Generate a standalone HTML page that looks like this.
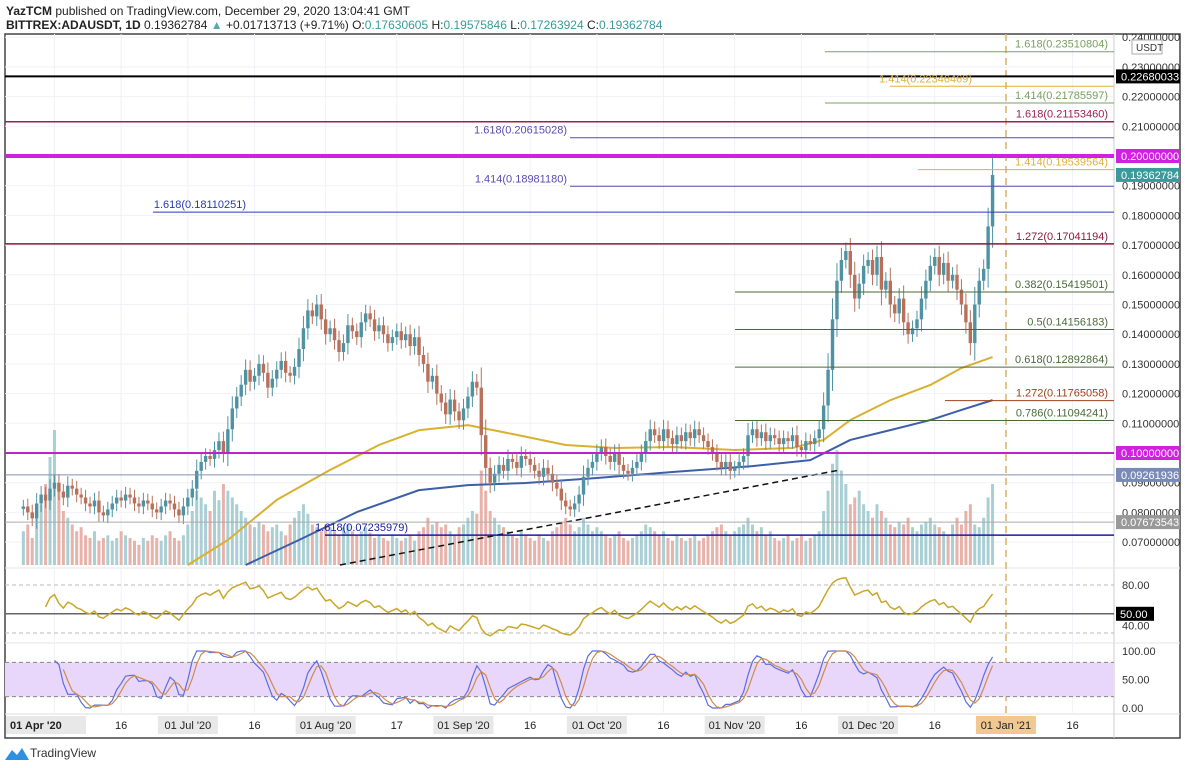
<!DOCTYPE html>
<html><head><meta charset="utf-8">
<style>
body{margin:0;background:#fff;width:1185px;height:768px;overflow:hidden;font-family:"Liberation Sans",sans-serif;}
svg{display:block}
</style></head>
<body>
<svg id="chart" width="1185" height="768" xmlns="http://www.w3.org/2000/svg" font-family="Liberation Sans, sans-serif">
<text x="6" y="15" font-size="12" fill="#222"><tspan font-weight="bold">YazTCM</tspan> published on TradingView.com, December 29, 2020 13:04:41 GMT</text>
<text x="6" y="29" font-size="12" fill="#222"><tspan font-weight="bold">BITTREX:ADAUSDT, 1D</tspan> 0.19362784 <tspan fill="#5aa">▲</tspan> +0.01713713 (+9.71%) O:<tspan fill="#3a9a9a">0.17630605</tspan> H:<tspan fill="#3a9a9a">0.19575846</tspan> L:<tspan fill="#3a9a9a">0.17263924</tspan> C:<tspan fill="#3a9a9a">0.19362784</tspan></text>
<rect x="5" y="34" width="1175" height="704" fill="none" stroke="#444" stroke-width="1.5"/>
<line x1="1114" y1="34" x2="1114" y2="738" stroke="#ccc"/>
<line x1="5" y1="714" x2="1180" y2="714" stroke="#ddd"/>
<line x1="5" y1="568" x2="1180" y2="568" stroke="#e6e6e6"/>
<line x1="5" y1="643" x2="1180" y2="643" stroke="#e6e6e6"/>
<g id="grid"></g>
<g id="vol"></g>
<g id="lines"></g>
<g id="ma"></g>
<g id="candles"></g>
<g id="fib"></g>
<g id="axis"></g>
<g id="rsi"></g>
<g id="stoch"></g>
<g id="time"></g>
<g>
<path d="M5 760 L12 750 L17 755 L22 748 L29 760 Z" fill="#2f8fe0"/>
<text x="30" y="757" font-size="12" fill="#333">TradingView</text>
</g>
</svg>
<script>
const closes=[.082,.080,.078,.083,.086,.084,.088,.090,.087,.085,
.089,.088,.086,.085,.083,.082,.084,.080,.079,.081,
.083,.085,.084,.086,.085,.083,.082,.084,.083,.081,
.080,.082,.084,.083,.081,.079,.082,.085,.088,.094,
.097,.099,.098,.101,.104,.100,.108,.115,.119,.123,
.128,.124,.126,.130,.127,.122,.125,.128,.131,.127,
.126,.129,.135,.142,.148,.146,.150,.145,.140,.142,
.138,.134,.137,.143,.141,.139,.144,.147,.145,.141,
.143,.140,.137,.139,.141,.138,.140,.136,.139,.133,
.130,.124,.126,.120,.117,.113,.118,.114,.111,.115,
.119,.124,.122,.106,.095,.090,.093,.096,.094,.098,
.097,.095,.099,.098,.096,.094,.092,.095,.093,.090,
.088,.084,.082,.081,.083,.086,.092,.095,.097,.100,
.102,.099,.097,.100,.096,.094,.093,.095,.097,.100,
.104,.108,.106,.104,.108,.105,.103,.106,.104,.107,
.105,.108,.106,.104,.102,.100,.097,.095,.097,.094,
.095,.097,.099,.106,.108,.105,.107,.104,.106,.105,
.103,.105,.104,.106,.102,.101,.104,.103,.105,.108,
.116,.128,.145,.158,.165,.168,.160,.152,.157,.163,
.165,.160,.166,.155,.158,.150,.147,.152,.144,.140,
.142,.145,.152,.158,.163,.166,.160,.164,.158,.160,
.155,.150,.144,.137,.150,.158,.162,.1763,.1936];
const volumes=[25,30,20,35,45,60,80,100,60,40,35,30,25,28,22,20,25,18,20,22,18,20,25,22,20,18,15,20,18,22,20,18,22,25,20,18,22,30,40,55,50,45,40,55,48,60,55,50,45,40,35,30,28,32,30,25,28,30,25,22,30,35,40,45,38,30,28,25,30,28,25,22,28,30,25,22,25,28,24,20,22,20,18,22,20,18,20,22,18,25,28,35,30,32,28,30,25,22,28,30,35,40,38,70,55,40,35,30,28,25,22,20,25,22,20,18,22,20,18,25,28,32,35,30,25,28,35,30,25,28,25,22,20,22,25,20,18,20,22,25,30,28,25,22,25,20,18,22,20,18,20,22,18,20,22,25,28,30,25,22,25,28,30,35,30,25,28,22,25,20,18,20,22,18,20,22,18,20,22,25,40,55,75,85,70,60,45,50,55,45,40,35,45,40,35,30,28,32,30,35,28,25,30,32,35,30,28,25,22,30,35,30,40,45,30,28,35,50,60];
const maOrangeDays=[40,49,60,72,83,92,103,114,125,136,149,163,176,183,189,198,207,214,221];
const maOrangeVals=[.0623,.0707,.0842,.0943,.1027,.1077,.1094,.1061,.1027,.1017,.1020,.1010,.1017,.1044,.1111,.1178,.1229,.1286,.1323];
const maBlueDays=[53,65,78,92,103,116,132,149,167,180,189,198,207,214,221];
const maBlueVals=[.0623,.0707,.0801,.0875,.0892,.0899,.0916,.0936,.0956,.0976,.1044,.1077,.1111,.1145,.1178];
const priceTicks=[0.07,0.08,0.09,0.10,0.11,0.12,0.13,0.14,0.15,0.16,0.17,0.18,0.19,0.20,0.21,0.22,0.23,0.24];
const timeLabels=["01 Apr '20 Jun '20","16","01 Jul '20","16","01 Aug '20","17","01 Sep '20","16","01 Oct '20","16","01 Nov '20","16","01 Dec '20","16","01 Jan '21","16"];
const timeDays=[10,25,40,55,71,87,102,117,132,147,163,178,193,208,224,239];
const fibPrices=[0.23510804,0.2268003,0.22346469,0.21785597,0.2115346,0.20615028,0.2,0.19539564,0.1898118,0.18110251,0.17041194,0.15419501,0.14156183,0.12892864,0.11765058,0.11094241,0.1,0.09261936,0.07673543,0.07235979];
const fibLabels=["1.618(0.23510804)","","1.414(0.22346469)","1.414(0.21785597)","1.618(0.21153460)","1.618(0.20615028)","","1.414(0.19539564)","1.414(0.18981180)","1.618(0.18110251)","1.272(0.17041194)","0.382(0.15419501)","0.5(0.14156183)","0.618(0.12892864)","1.272(0.11765058)","0.786(0.11094241)","","","","1.618(0.07235979)"];
const fibColors=["#7aa060","#000","#e0b040","#7aa060","#9a2050","#5a4ab0","#d020e0","#e0b040","#5a4ab0","#2a3ab0","#8a1a3a","#4a6a3a","#4a6a3a","#4a6a3a","#a0401a","#4a6a3a","#c020d0","#8090b0","#aaa","#1a1aa0"];
const fibStart=[825,5,890,825,5,570,5,918,570,153,5,735,735,735,945,735,5,5,5,325];
const fibWidth=[1,2,1,1,1.5,1,4,1,1,1,1.5,1,1,1,1,1,2,1,1,1.5];
const fibLabelX=[1108,0,972,1108,1108,567,0,1108,567,246,1108,1108,1108,1108,1108,1108,0,0,0,408];
const axisBoxes=[[0.2268003,"0.22680033","#000"],[0.2,"0.20000000","#d020e0"],[0.19362784,"0.19362784","#3a9a9a"],[0.1,"0.10000000","#d020e0"],[0.09261936,"0.09261936","#7a8ab8"],[0.07673543,"0.07673543","#999"]];

const NS="http://www.w3.org/2000/svg";
function mk(tag,attrs,parent,txt){const e=document.createElementNS(NS,tag);for(const k in attrs)e.setAttribute(k,attrs[k]);if(txt!==undefined)e.textContent=txt;document.getElementById(parent).appendChild(e);return e;}
const py=p=>453-(p-0.10)*2970;
const dx=d=>10+d*4.446;
const cx=i=>dx(i+3);
const volY=v=>565-v*1.35;
const rsiY=v=>585+(80-v)*0.96;
const stY=v=>708-v*0.57;

priceTicks.forEach(p=>{const l=mk('line',{x1:5,x2:1114,y1:py(p),y2:py(p),stroke:'#f0f2f7'},'grid');

});
timeDays.forEach(d=>{const l=mk('line',{x1:dx(d),x2:dx(d),y1:34,y2:714,stroke:'#f0f2f7'},'grid');

});

for(let i=0;i<closes.length;i++){
 const c=closes[i],o=i?closes[i-1]:c*0.99,up=c>=o;
 const x=cx(i);
 const vb=mk('rect',{x:x-1.5,y:volY(volumes[i]),width:3,height:565-volY(volumes[i]),fill:up?'#a9cfd4':'#e6b2aa'},'vol');
 
 
 const w=0.002+Math.abs(c-o)*0.3;
 const hi=Math.max(o,c)+w,lo=Math.min(o,c)-w;
 const col=up?'#4f93a3':'#b8705a';
 const wk=mk('line',{x1:x,x2:x,y1:py(hi),y2:py(lo),stroke:col,'stroke-width':1},'candles');
 
 
 const bt=py(Math.max(o,c)),bh=Math.max(1,Math.abs(py(o)-py(c)));
 const bd=mk('rect',{x:x-1.7,y:bt,width:3.4,height:bh,fill:col},'candles');
 
 
}
function poly(days,vals,col,name){const pts=days.map((d,i)=>dx(d)+','+py(vals[i])).join(' ');
 const p=mk('polyline',{points:pts,fill:'none',stroke:col,'stroke-width':2,'stroke-linejoin':'round'},'ma');
 
 }
poly(maOrangeDays,maOrangeVals,'#d9b030','ma-orange');
poly(maBlueDays,maBlueVals,'#3d5fa8','ma-blue');
const tl=mk('line',{x1:340,y1:565,x2:840,y2:470,stroke:'#111','stroke-width':1.5,'stroke-dasharray':'6 4'},'lines');


const vl=mk('line',{x1:1006,x2:1006,y1:34,y2:714,stroke:'#e0b060','stroke-width':1.5,'stroke-dasharray':'7 5'},'lines');



fibPrices.forEach((p,i)=>{const y=py(p);
 const l=mk('line',{x1:fibStart[i],x2:1114,y1:y,y2:y,stroke:fibColors[i],'stroke-width':fibWidth[i]},'fib');
 
 
 if(fibLabels[i]){const t=mk('text',{x:fibLabelX[i],y:y-4,'font-size':11,fill:fibColors[i],'text-anchor':'end'},'fib',fibLabels[i]);
 
 }
});

priceTicks.forEach(p=>{const t=mk('text',{x:1122,y:py(p)+4,'font-size':11,fill:'#333'},'axis',p.toFixed(8));

});
const ub=mk('rect',{x:1132,y:40,width:30,height:14,fill:'#fff',stroke:'#aaa'},'axis');


mk('text',{x:1136,y:51,'font-size':10,fill:'#333'},'axis','USDT');
axisBoxes.forEach(b=>{const y=py(b[0]);
 const r=mk('rect',{x:1116,y:y-7,width:64,height:14,fill:b[2]},'axis');
 
 
 mk('text',{x:1121,y:y+4,'font-size':11,fill:'#fff'},'axis',b[1]);});

const rsi=[null];{let ag=0,al=0;for(let i=1;i<closes.length;i++){const ch=closes[i]-closes[i-1],g=Math.max(ch,0),l=Math.max(-ch,0);
 const n=Math.min(i,14);ag=(ag*(n-1)+g)/n;al=(al*(n-1)+l)/n;
 rsi[i]=al===0?100:100-100/(1+ag/al);}}
[80,30].forEach(v=>{const l=mk('line',{x1:5,x2:1114,y1:rsiY(v),y2:rsiY(v),stroke:'#bbb','stroke-dasharray':'4 3'},'rsi');

});
const r50=mk('line',{x1:5,x2:1114,y1:rsiY(50),y2:rsiY(50),stroke:'#666','stroke-width':1.5},'rsi');


const rp=[];rsi.forEach((v,i)=>{if(v!=null&&i>=5)rp.push(cx(i)+','+rsiY(v));});
const rl=mk('polyline',{points:rp.join(' '),fill:'none',stroke:'#c9a72a','stroke-width':1.5},'rsi');


mk('text',{x:1122,y:rsiY(80)+4,'font-size':11,fill:'#333'},'rsi','80.00');
mk('text',{x:1122,y:rsiY(40)+6,'font-size':11,fill:'#333'},'rsi','40.00');
const rb=mk('rect',{x:1116,y:rsiY(50)-7,width:38,height:14,fill:'#000'},'rsi');


mk('text',{x:1120,y:rsiY(50)+4,'font-size':11,fill:'#fff'},'rsi','50.00');

const st=[];for(let i=0;i<rsi.length;i++){if(i<5){st[i]=null;continue;}const w=rsi.slice(Math.max(5,i-13),i+1);const mn=Math.min(...w),mx=Math.max(...w);st[i]=mx===mn?50:(rsi[i]-mn)/(mx-mn)*100;}
const sma=(a,n)=>a.map((v,i)=>{const w=a.slice(Math.max(0,i-n+1),i+1);if(w.length<n||w.some(x=>x==null))return null;return w.reduce((s,x)=>s+x,0)/n;});
const K=sma(st,3),D=sma(K,3);
const band=mk('rect',{x:5,y:stY(80),width:1109,height:stY(20)-stY(80),fill:'#e9d6fb'},'stoch');


[80,20].forEach(v=>{const l=mk('line',{x1:5,x2:1114,y1:stY(v),y2:stY(v),stroke:'#888','stroke-dasharray':'4 3'},'stoch');

});
function sline(a,col,name){const pts=[];a.forEach((v,i)=>{if(v!=null)pts.push(cx(i)+','+stY(v));});
 const p=mk('polyline',{points:pts.join(' '),fill:'none',stroke:col,'stroke-width':1.2},'stoch');
 
 }
sline(K,'#5b6ee1','stoch-k-line');sline(D,'#d08a50','stoch-d-line');
[[100,'100.00'],[50,'50.00'],[0,'0.00']].forEach(a=>{const t=mk('text',{x:1122,y:stY(a[0])+4,'font-size':11,fill:'#333'},'stoch',a[1]);

});

timeLabels.forEach((s,i)=>{const x=dx(timeDays[i]);const major=s.length>3;
 if(major){const r=mk('rect',{x:(i==0?6:x-30),y:716,width:(i==0?80:60),height:18,fill:(i==14?'#f0c890':'#e8e8e8')},'time');
 
 }
 const t=mk('text',{x:(i==0?10:x),y:729,'font-size':11,fill:'#222','text-anchor':(i==0?'start':'middle'),'font-weight':(i==0?'bold':'normal')},'time',i==0?"01 Apr '20":s);
 
 });
</script>
</body></html>
